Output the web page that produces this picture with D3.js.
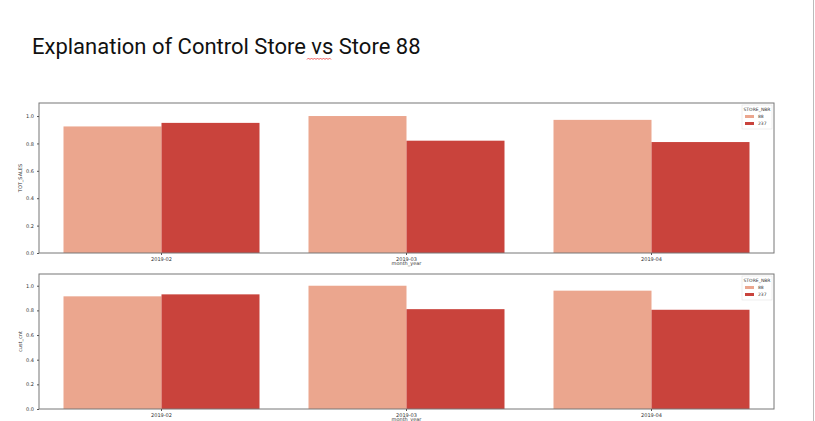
<!DOCTYPE html>
<html><head><meta charset="utf-8">
<script src="https://cdn.jsdelivr.net/npm/d3@7"></script>
<style>body{margin:0;background:#fff}svg{display:block}</style>
</head><body>
<script>
const categories = ["2019-02","2019-03","2019-04"];
const stores = ["88","237"];
const totSales88 = [0.924, 1.0, 0.972];
const totSales237 = [0.95, 0.82, 0.81];
const custs88 = [0.914, 1.0, 0.96];
const custs237 = [0.93, 0.81, 0.805];
const yTicks = [0,0.2,0.4,0.6,0.8,1.0];
const colors = ["#eba68e","#c9433c"];

const svg = d3.select("body").append("svg").attr("width",815).attr("height",421);
svg.append("line").attr("x1",813.5).attr("x2",813.5).attr("y1",0).attr("y2",421).attr("stroke","#bbb");
const title = svg.append("text").attr("x",32).attr("y",54).attr("font-family","Roboto, sans-serif")
  .attr("font-size",22).attr("fill","#111").text("Explanation of Control Store vs Store 88");
// squiggle under "vs"
let sq="M307,59.5"; for(let i=0;i<8;i++){sq+=` l1.5,-1.5 l1.5,1.5`;}
svg.append("path").attr("d",sq).attr("fill","none").attr("stroke","#e33").attr("stroke-width",0.8);

function panel(top,bottom,v88,v237,ylabel){
  const x0=39,x1=774;
  const x=d3.scaleBand().domain(categories).range([x0,x1]).paddingInner(0).paddingOuter(0);
  const y=d3.scaleLinear().domain([0,1.05]).range([bottom,bottom-(bottom-top)*1.0/1.043]);
  const y2=d3.scaleLinear().domain([0,(bottom-top)/((bottom-y(1)))]).range([bottom,top]);
  const xs=d3.scaleBand().domain(stores).range([0,x.bandwidth()*0.8]);
  const g=svg.append("g");
  const data=[v88,v237];
  stores.forEach((s,si)=>{
    g.selectAll(null).data(categories).join("rect")
      .attr("x",c=>x(c)+x.bandwidth()*0.1+xs(s)).attr("width",xs.bandwidth())
      .attr("y",(c,i)=>y2(data[si][i])).attr("height",(c,i)=>bottom-y2(data[si][i]))
      .attr("fill",colors[si]);
  });
  g.append("rect").attr("x",x0).attr("y",top).attr("width",x1-x0).attr("height",bottom-top)
    .attr("fill","none").attr("stroke","#777").attr("stroke-width",1);
  const ya=g.append("g").attr("transform",`translate(${x0},0)`).call(d3.axisLeft(y2).tickValues(yTicks).tickFormat(d3.format(".1f")).tickSize(2).tickPadding(3));
  const xa=g.append("g").attr("transform",`translate(0,${bottom})`).call(d3.axisBottom(x).tickSize(2).tickPadding(2));
  [ya,xa].forEach(a=>{a.select(".domain").remove();a.selectAll("text").attr("font-size",5).attr("font-family","DejaVu Sans").attr("fill","#333");a.selectAll("line").attr("stroke","#555");});
  g.append("text").attr("transform",`translate(22,${(top+bottom)/2}) rotate(-90)`).attr("text-anchor","middle")
    .attr("font-size",5).attr("font-family","DejaVu Sans").attr("fill","#333").text(ylabel);
  g.append("text").attr("x",(x0+x1)/2).attr("y",bottom+12).attr("text-anchor","middle")
    .attr("font-size",5).attr("font-family","DejaVu Sans").attr("fill","#333").text("month_year");
  const lg=g.append("g").attr("transform",`translate(742,${top+2})`);
  lg.append("rect").attr("width",30).attr("height",24).attr("fill","#fff").attr("stroke","#ddd").attr("stroke-width",0.5);
  lg.append("text").attr("x",15).attr("y",6).attr("text-anchor","middle").attr("font-size",4.5).attr("font-family","DejaVu Sans").attr("fill","#333").text("STORE_NBR");
  stores.forEach((s,i)=>{
    lg.append("rect").attr("x",3).attr("y",10+i*7).attr("width",9).attr("height",3).attr("fill",colors[i]);
    lg.append("text").attr("x",16).attr("y",13+i*7).attr("font-size",4.5).attr("font-family","DejaVu Sans").attr("fill","#333").text(s);
  });
}
panel(103,253,totSales88,totSales237,"TOT_SALES");
panel(274,409,custs88,custs237,"cust_cnt");
</script>
</body></html>
